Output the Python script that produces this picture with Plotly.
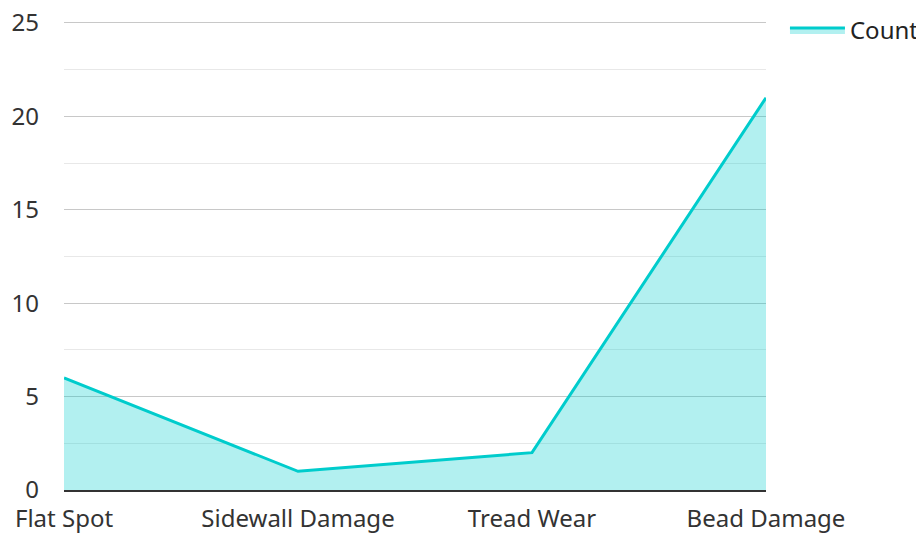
import plotly.graph_objects as go

categories = ["Flat Spot", "Sidewall Damage", "Tread Wear", "Bead Damage"]
counts = [6, 1, 2, 21]
series_name = "Count"
y_ticks = [0, 5, 10, 15, 20, 25]

fig = go.Figure()
fig.add_trace(go.Scatter(
    x=categories, y=counts, name=series_name, mode="lines",
    line=dict(color="#00CCCC", width=3),
    fill="tozeroy", fillcolor="rgba(0,204,204,0.3)",
))

fig.update_layout(
    width=916, height=525,
    margin=dict(l=56, r=158, t=12, b=43, autoexpand=False),
    paper_bgcolor="white", plot_bgcolor="white",
    font=dict(family="Noto Sans, Open Sans, sans-serif", size=24, color="#333333"),
    showlegend=True,
    legend=dict(x=1.027, y=1.026, xanchor="left", yanchor="top", itemwidth=55,
                font=dict(size=24, color="#222222"), bgcolor="rgba(0,0,0,0)"),
    xaxis=dict(range=[0, 3], showgrid=False, zeroline=False, showline=True,
               linecolor="#333333", linewidth=2, ticks="", ticklabelstandoff=6,
               automargin=False, ticklabeloverflow="allow"),
    yaxis=dict(range=[0, 25.16], tickvals=y_ticks, showgrid=True, gridcolor="#c8c8c8",
               gridwidth=1, zeroline=False, showline=False, ticks="",
               ticklabelstandoff=24, automargin=False, ticklabeloverflow="allow",
               minor=dict(dtick=2.5, showgrid=True, gridcolor="#e8e8e8", gridwidth=1)),
)

fig.write_html("out.html")
